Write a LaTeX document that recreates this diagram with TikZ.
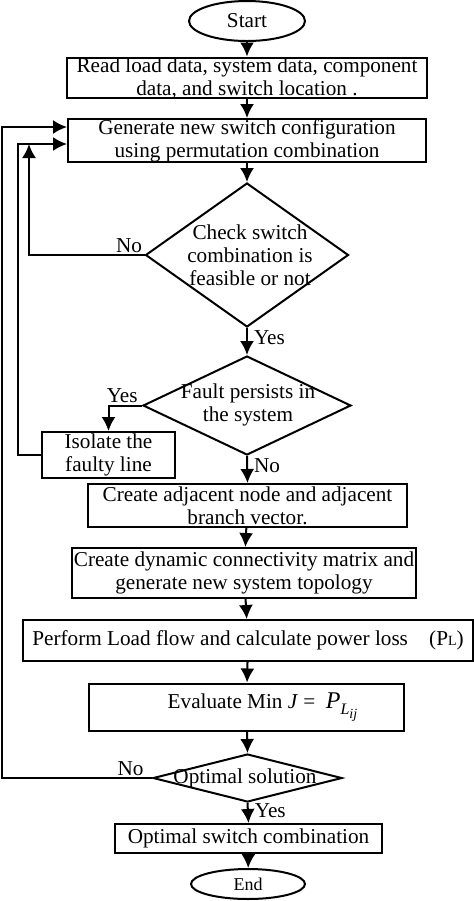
\documentclass[tikz,border=0pt]{standalone}
\usepackage{fontspec}
\setmainfont{Liberation Serif}
\usetikzlibrary{calc,positioning,arrows.meta,shapes.geometric}
\tikzset{
  procbox/.style={rectangle, draw=black, line width=1pt, inner sep=0pt, align=center,
    font=\fontsize{10.6}{11.5}\selectfont},
  decis/.style={diamond, draw=black, line width=1pt, inner sep=0pt},
  dtext/.style={align=center, inner sep=0pt, font=\fontsize{10.6}{11.5}\selectfont},
  term/.style={ellipse, draw=black, line width=1pt, inner sep=0pt,
    font=\fontsize{10.6}{11.5}\selectfont},
  lbl/.style={inner sep=1pt, font=\fontsize{10.6}{11.5}\selectfont},
  line/.style={draw, line width=1pt, -{Latex[length=7pt,width=7pt]}},
  plain/.style={draw, line width=1pt}
}
\begin{document}
\begin{tikzpicture}[x=0.5pt,y=-0.5pt]
  \useasboundingbox (0,0) rectangle (474,901);

  \node[term, minimum width=58pt, minimum height=20pt] (start) at (247,21) {Start};
  \node[procbox, minimum width=180pt, minimum height=20pt] (read) at (247,78)
    {Read load data, system data, component\\data, and switch location .};
  \node[procbox, minimum width=179pt, minimum height=21.5pt] (gen) at (247,140.5)
    {Generate new switch configuration\\using permutation combination};

  \node[decis, minimum width=101.5pt, minimum height=72pt] (check) at (247,255) {};
  \node[dtext] (checktxt) at (250,255) {Check switch\\combination is\\feasible or not};

  \node[decis, minimum width=104pt, minimum height=49.5pt] (fault) at (247,405.5) {};
  \node[dtext] (faulttxt) at (248,405) {Fault persists in\\the system};

  \node[procbox, minimum width=66.5pt, minimum height=23pt] (iso) at (108.5,455)
    {Isolate the\\faulty line};

  \node[procbox, minimum width=159.5pt, minimum height=21.5pt] (adj) at (247.5,505.5)
    {Create adjacent node and adjacent\\branch vector.};
  \node[procbox, minimum width=172pt, minimum height=25pt] (dyn) at (244,573)
    {Create dynamic connectivity matrix and\\generate new system topology};
  \node[procbox, minimum width=225pt, minimum height=20.5pt] (perf) at (248,640.5)
    {Perform Load flow and calculate power loss\quad(P{\scriptsize L})};
  \node[procbox, minimum width=157.5pt, minimum height=23.5pt] (eval) at (246.5,707)
    {\hspace*{16pt}Evaluate Min \textit{J} =\ \ {\large\textit{P}}\raisebox{-0.6ex}{\footnotesize\textit{L}\raisebox{-0.5ex}{\scriptsize\textit{ij}}}};

  \node[decis, minimum width=94.5pt, minimum height=24pt] (opt) at (247.5,778) {};
  \node[dtext] (opttxt) at (245,778) {Optimal solution};

  \node[procbox, minimum width=133.5pt, minimum height=14.5pt] (combo) at (248.5,838.5)
    {Optimal switch combination};
  \node[term, minimum width=57pt, minimum height=15pt, font=\small] (end) at (248,884) {End};

  % feedback entry points
  \coordinate (gin1) at (gen.west |- 0,127);
  \coordinate (gin2) at (gen.west |- 0,144);
  \coordinate (m1) at (29,144);

  \begin{scope}[every path/.style=line]
    \path (start) -- (read);
    \path (read) -- (gen);
    \path (gen) -- (check.north);
    \path (check.south) -- node[lbl, right=2pt, pos=0.35] (yes1) {Yes} (fault.north);
    \path (check.west) -| (m1);
    \path (fault.west) -| (iso.north);
    \path (iso.west) -- ++(-23,0) |- (gin2);
    \path (fault.south) -- node[lbl, right=2pt, pos=0.35] (no2) {No} (adj.north);
    \path (adj) -- (dyn);
    \path (dyn) -- (perf);
    \path (perf) -- (eval);
    \path (eval) -- (opt.north);
    \path (opt.west) -- ++(-150,0) |- (gin1);
    \path (opt.south) -- node[lbl, right=2pt, pos=0.4] (yes3) {Yes} (combo.north);
    \path (combo) -- (end);
  \end{scope}

  \node[lbl, above left=0pt and 0pt of check.west] (no1) {No};
  \node[lbl, above left=0pt and 1pt of fault.west] (yes2) {Yes};
  \node[lbl, above left=0pt and 3pt of opt.west] (no3) {No};
\end{tikzpicture}
\end{document}
